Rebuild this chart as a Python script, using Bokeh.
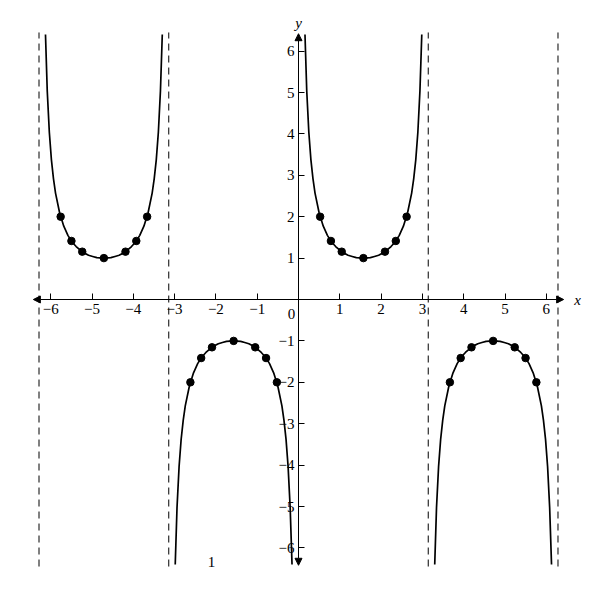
from bokeh.plotting import figure
from bokeh.models import LinearAxis, FixedTicker, Arrow, NormalHead, Label
from bokeh.embed import file_html
from bokeh.resources import INLINE

branch_x = [0.157, 0.2, 0.25, 0.3, 0.35, 0.4, 0.5, 0.6, 0.7, 0.8, 0.9, 1.0, 1.1, 1.2, 1.3, 1.4,
            1.5708, 1.74, 1.84, 1.94, 2.04, 2.14, 2.24, 2.34, 2.44, 2.54, 2.64, 2.74, 2.79,
            2.84, 2.89, 2.94, 2.985]
branch_y = [6.40, 5.03, 4.04, 3.38, 2.92, 2.57, 2.09, 1.77, 1.55, 1.39, 1.28, 1.19, 1.12, 1.07,
            1.04, 1.01, 1.00, 1.01, 1.04, 1.07, 1.12, 1.19, 1.28, 1.39, 1.55, 1.77, 2.09, 2.57,
            2.92, 3.38, 4.04, 5.03, 6.40]

# marked points on each branch (pi/6, pi/4, pi/3, pi/2, 2pi/3, 3pi/4, 5pi/6)
dot_x = [0.524, 0.785, 1.047, 1.571, 2.094, 2.356, 2.618]
dot_y = [2.0, 1.414, 1.155, 1.0, 1.155, 1.414, 2.0]

# branch shifts and signs: (shift, sign)
branches = [(-6.2832, 1), (-3.1416, -1), (0.0, 1), (3.1416, -1)]

asymptotes = [-6.2832, -3.1416, 3.1416, 6.2832]

ticks = [-6, -5, -4, -3, -2, -1, 1, 2, 3, 4, 5, 6]
tick_labels = {t: (("\u2212" + str(-t)) if t < 0 else str(t)) for t in ticks}

FONT = "Liberation Serif"
k = 41.3
ky = 41.4
W, H = 589, 582
x0 = -298 / k
y1 = 299 / ky
p = figure(width=W, height=H, x_range=(x0, x0 + W / k), y_range=(y1 - H / ky, y1),
           x_axis_type=None, y_axis_type=None, toolbar_location=None,
           output_backend="svg", min_border=0)
p.outline_line_color = None
p.background_fill_color = "white"

# asymptotes
ext = 6.45
p.segment(x0=asymptotes, y0=[-ext] * 4, x1=asymptotes, y1=[ext] * 4,
          line_color="black", line_width=1, line_dash="7 5")

# axes
xa = LinearAxis(fixed_location=0, ticker=FixedTicker(ticks=ticks),
                major_label_overrides=tick_labels)
ya = LinearAxis(fixed_location=0, ticker=FixedTicker(ticks=ticks),
                major_label_overrides=tick_labels)
for a in (xa, ya):
    a.axis_line_color = None
    a.major_tick_in = 6
    a.major_tick_out = 0
    a.minor_tick_line_color = None
    a.major_tick_line_color = "black"
    a.major_tick_line_width = 1
    a.major_label_text_font = FONT
    a.major_label_text_font_size = "15px"
    a.major_label_text_color = "black"
xa.major_label_standoff = 4
ya.major_label_standoff = 4
p.add_layout(xa, "below")
p.add_layout(ya, "left")

al = 6.42
p.add_layout(Arrow(start=NormalHead(size=7, fill_color="black", line_color="black"),
                   end=NormalHead(size=7, fill_color="black", line_color="black"),
                   x_start=-al, y_start=0, x_end=al, y_end=0,
                   line_color="black", line_width=1))
p.add_layout(Arrow(start=NormalHead(size=7, fill_color="black", line_color="black"),
                   end=NormalHead(size=7, fill_color="black", line_color="black"),
                   x_start=0, y_start=-al, x_end=0, y_end=al,
                   line_color="black", line_width=1))

# curves and dots
for shift, sign in branches:
    xs = [x + shift for x in branch_x]
    ys = [sign * y for y in branch_y]
    p.line(xs, ys, line_color="black", line_width=1.7)
    dxs = [x + shift for x in dot_x]
    dys = [sign * y for y in dot_y]
    p.scatter(dxs, dys, size=7.5, fill_color="black", line_color="black")

# text labels
p.add_layout(Label(x=6.76, y=0, text="x", text_font=FONT, text_font_style="italic",
                   text_font_size="15px", text_align="center", text_baseline="middle",
                   text_color="black"))
p.add_layout(Label(x=0, y=6.69, text="y", text_font=FONT, text_font_style="italic",
                   text_font_size="15px", text_align="center", text_baseline="middle",
                   text_color="black"))
p.add_layout(Label(x=-0.17, y=-0.34, text="0", text_font=FONT,
                   text_font_size="15px", text_align="center", text_baseline="middle",
                   text_color="black"))
p.add_layout(Label(x=-2.107, y=-6.35, text="1", text_font=FONT,
                   text_font_size="15px", text_align="center", text_baseline="middle",
                   text_color="black"))

open("out.html", "w").write(file_html(p, INLINE))
